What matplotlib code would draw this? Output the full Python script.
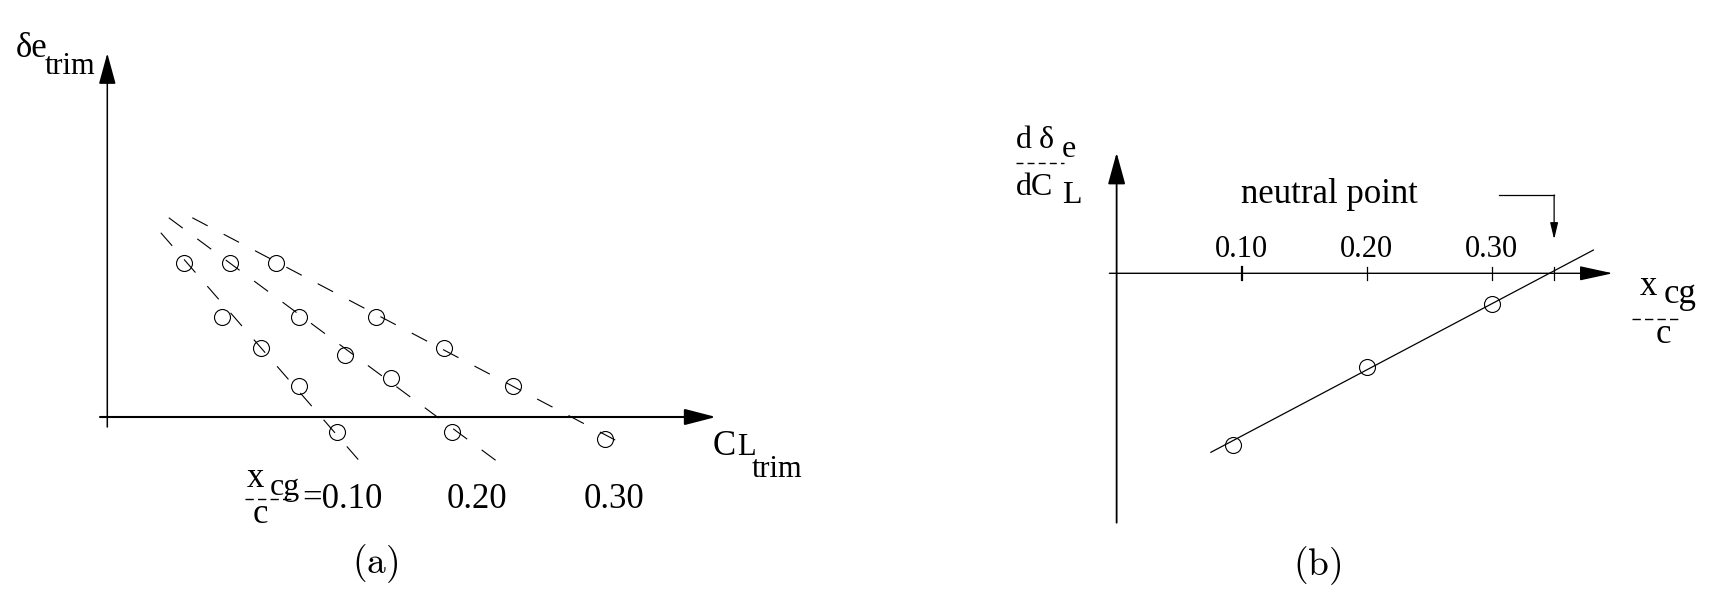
import matplotlib
matplotlib.use("Agg")
import matplotlib.pyplot as plt
import numpy as np

plt.rcParams['font.family'] = ['Liberation Serif', 'DejaVu Serif']
plt.rcParams['mathtext.fontset'] = 'cm'
plt.rcParams['lines.scale_dashes'] = False

# --- panel (a): trim elevator angle vs trim lift coefficient (schematic units)
xcg_labels = ['0.10', '0.20', '0.30']
cl_trim = [
    [0.153, 0.229, 0.307, 0.383, 0.460],
    [0.245, 0.383, 0.475, 0.567, 0.690],
    [0.337, 0.537, 0.673, 0.812, 0.995],
]
delta_trim = [
    [0.615, 0.399, 0.277, 0.125, -0.060],
    [0.615, 0.399, 0.247, 0.156, -0.058],
    [0.615, 0.399, 0.278, 0.124, -0.089],
]
# ends of the dashed fit lines
fit_cl = [[0.107, 0.517], [0.123, 0.782], [0.170, 1.047]]
fit_delta = [[0.737, -0.205], [0.797, -0.181], [0.797, -0.125]]

# --- panel (b): elevator gradient vs cg position
xcg = [0.0934, 0.20, 0.30]
d_delta_d_cl = [-0.687, -0.374, -0.123]
fit_xcg = [0.0754, 0.3814]
fit_slope = [-0.716, 0.093]
tick_xcg = [0.10, 0.20, 0.30]
neutral_point = 0.35


def arrow(ax, start, tip, lw, hl, hw):
    ax.annotate('', xy=tip, xytext=start,
                arrowprops=dict(arrowstyle=f'-|>,head_length={hl},head_width={hw}',
                                lw=lw, color='black', shrinkA=0, shrinkB=0,
                                mutation_scale=1))


fig = plt.figure(figsize=(17.24, 6), dpi=100)
split = 860 / 1724
ax_a = fig.add_axes([0, 0, split, 1])
ax_b = fig.add_axes([split, 0, 1 - split, 1])
for ax in (ax_a, ax_b):
    ax.axis('off')

# ---------------- panel (a)
ax_a.set_xlim(-0.2146, 1.5054)
ax_a.set_ylim(-0.732, 1.668)

arrow(ax_a, (0, -0.04), (0, 1.455), 1.1, 19.4, 5.3)
arrow(ax_a, (-0.0146, 0), (1.2174, 0), 1.5, 19.4, 5.0)

for i in range(len(xcg_labels)):
    ax_a.plot(fit_cl[i], fit_delta[i], color='black', lw=0.8, dashes=(12.5, 13))
    ax_a.plot(cl_trim[i], delta_trim[i], 'o', mfc='none', mec='black', ms=11.5, mew=0.8)

fs_a = 25
ax_a.text(-0.1826, 1.441, 'δe', fontsize=fs_a, va='baseline', ha='left')
ax_a.text(-0.1246, 1.372, 'trim', fontsize=22, va='baseline', ha='left')
ax_a.text(1.2114, -0.152, 'C', fontsize=fs_a, va='baseline', ha='left')
ax_a.text(1.2594, -0.152, 'L', fontsize=22, va='baseline', ha='left')
ax_a.text(1.2894, -0.24, 'trim', fontsize=22, va='baseline', ha='left')

ax_a.text(0.2788, -0.2788, 'x', fontsize=fs_a, va='baseline', ha='left')
ax_a.text(0.3254, -0.312, 'cg', fontsize=23, va='baseline', ha='left')
ax_a.plot([0.2754, 0.3754], [-0.329, -0.329], color='black', lw=1.0, dashes=(6, 3))
ax_a.text(0.2914, -0.424, 'c', fontsize=fs_a, va='baseline', ha='left')
label_left = [0.3908, 0.6788, 0.952]
for i, lab in enumerate(xcg_labels):
    txt = '=' + lab if i == 0 else lab
    ax_a.text(label_left[i], -0.364, txt, fontsize=fs_a, va='baseline', ha='left')

ax_a.text(0.5354, -0.588, r'$\mathrm{(a)}$', fontsize=27, va='center', ha='center')

# ---------------- panel (b)
ax_b.set_xlim(-0.2053, 0.4859)
ax_b.set_ylim(-1.3068, 1.0932)

arrow(ax_b, (0, -0.9976), (0, 0.4824), 1.3, 19.7, 5.4)
arrow(ax_b, (-0.00576, 0), (0.3969, 0), 1.0, 20.7, 4.5)

for j, t in enumerate(tick_xcg + [neutral_point]):
    ax_b.plot([t, t], [-0.0267, 0.0267], color='black', lw=1.6 if j == 0 else 0.9)
for t in tick_xcg:
    ax_b.text(t, 0.064, f'{t:.2f}', fontsize=22, va='baseline', ha='center')

ax_b.plot(fit_xcg, fit_slope, color='black', lw=0.9)
ax_b.plot(xcg, d_delta_d_cl, 'o', mfc='none', mec='black', ms=11.5, mew=0.8)

ax_b.text(0.0999, 0.28, 'neutral point', fontsize=25, va='baseline', ha='left')
ax_b.plot([0.3062, neutral_point], [0.3132, 0.3132], color='black', lw=0.9)
arrow(ax_b, (neutral_point, 0.3132), (neutral_point, 0.136), 0.9, 10, 2.4)

fs_b = 23
ax_b.text(-0.0805, 0.501, 'd', fontsize=fs_b, va='baseline', ha='left')
ax_b.text(-0.0621, 0.501, 'δ', fontsize=fs_b, va='baseline', ha='left')
ax_b.text(-0.0437, 0.466, 'e', fontsize=fs_b, va='baseline', ha='left')
ax_b.plot([-0.0805, -0.042], [0.4424, 0.4424], color='black', lw=1.0, dashes=(5, 3))
ax_b.text(-0.0805, 0.313, 'dC', fontsize=fs_b, va='baseline', ha='left')
ax_b.text(-0.0437, 0.28, 'L', fontsize=fs_b, va='baseline', ha='left')

ax_b.text(0.4187, -0.0868, 'x', fontsize=25, va='baseline', ha='left')
ax_b.text(0.4379, -0.1176, 'cg', fontsize=25, va='baseline', ha='left')
ax_b.plot([0.412, 0.4507], [-0.184, -0.184], color='black', lw=1.0, dashes=(6, 3))
ax_b.text(0.4315, -0.2788, 'c', fontsize=25, va='baseline', ha='left')

ax_b.text(0.1603, -1.1708, r'$\mathrm{(b)}$', fontsize=27, va='center', ha='center')

fig.savefig('out.png', dpi=100, facecolor='white')
